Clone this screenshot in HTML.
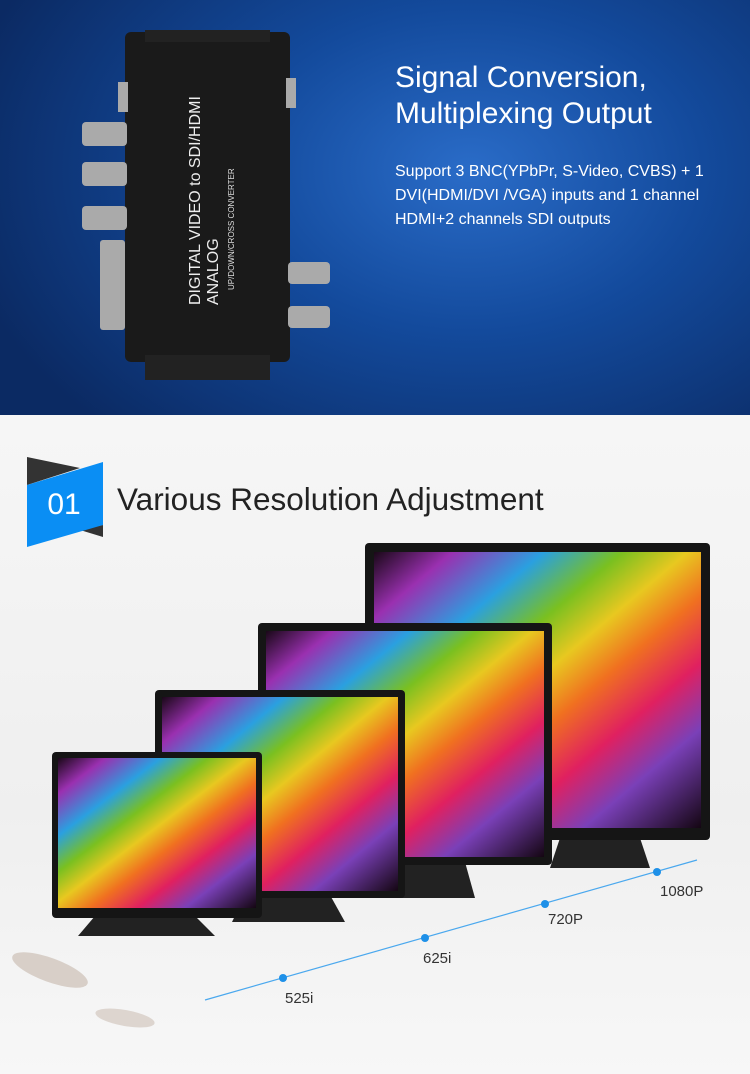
<!DOCTYPE html>
<html><head><meta charset="utf-8"><style>
body{margin:0;width:750px;height:1074px;overflow:hidden;font-family:"Liberation Sans",sans-serif}
#top{position:absolute;left:0;top:0;width:750px;height:415px;background:radial-gradient(ellipse 520px 360px at 470px 170px,#2a6cc8 0%,#134a9c 45%,#0b2a63 100%)}
#bot{position:absolute;left:0;top:415px;width:750px;height:659px;background:linear-gradient(#f6f6f6,#efefef 60%,#f7f7f7)}
.t{position:absolute;color:#fff}
</style></head><body>
<div id="top"></div>
<div id="bot"></div>
<svg width="750" height="1074" style="position:absolute;left:0;top:0">
<defs>
<linearGradient id="scr" x1="0" y1="0" x2="1" y2="1">
<stop offset="0" stop-color="#1a0818"/><stop offset=".12" stop-color="#9a30b0"/><stop offset=".26" stop-color="#2aa0e0"/><stop offset=".38" stop-color="#7ac020"/><stop offset=".48" stop-color="#e8c820"/><stop offset=".58" stop-color="#f07020"/><stop offset=".7" stop-color="#e02060"/><stop offset=".82" stop-color="#7a40b8"/><stop offset="1" stop-color="#140612"/>
</linearGradient>
</defs>
<rect x="125" y="32" width="165" height="330" rx="6" fill="#1a1a1a"/>
<rect x="145" y="30" width="125" height="12" fill="#222"/>
<rect x="145" y="355" width="125" height="25" fill="#222"/>
<g fill="#aaa"><rect x="82" y="122" width="45" height="24" rx="4"/><rect x="82" y="162" width="45" height="24" rx="4"/><rect x="82" y="206" width="45" height="24" rx="4"/><rect x="100" y="240" width="25" height="90" rx="3"/><rect x="288" y="262" width="42" height="22" rx="4"/><rect x="288" y="306" width="42" height="22" rx="4"/><rect x="118" y="82" width="10" height="30"/><rect x="286" y="78" width="10" height="30"/></g>
<text transform="translate(200,305) rotate(-90)" fill="#eee" font-size="16" font-family="Liberation Sans">DIGITAL VIDEO to SDI/HDMI</text>
<text transform="translate(218,305) rotate(-90)" fill="#eee" font-size="16" font-family="Liberation Sans">ANALOG</text>
<text transform="translate(234,290) rotate(-90)" fill="#ddd" font-size="8" font-family="Liberation Sans">UP/DOWN/CROSS CONVERTER</text>
<polygon points="27,457 27,485 80,468" fill="#333"/>
<polygon points="80,530 103,525 103,537" fill="#333"/>
<polygon points="27,485 103,462 103,525 27,547" fill="#0a8ef4"/>
<text x="64" y="514" fill="#fff" font-size="30" text-anchor="middle" font-family="Liberation Sans">01</text>
<text x="117" y="510" fill="#222" font-size="31.5" font-family="Liberation Sans">Various Resolution Adjustment</text>
<g>
<polygon points="560,838 640,838 650,868 550,868" fill="#222"/>
<rect x="365" y="543" width="345" height="297" rx="4" fill="#151515"/>
<rect x="374" y="552" width="327" height="276" fill="url(#scr)"/>
<polygon points="385,862 465,862 475,898 375,898" fill="#222"/>
<rect x="258" y="623" width="294" height="242" rx="4" fill="#151515"/>
<rect x="266" y="631" width="278" height="226" fill="url(#scr)"/>
<polygon points="245,895 330,895 345,922 232,922" fill="#222"/>
<rect x="155" y="690" width="250" height="208" rx="4" fill="#151515"/>
<rect x="162" y="697" width="236" height="194" fill="url(#scr)"/>
<polygon points="95,916 195,916 215,936 78,936" fill="#222"/>
<rect x="52" y="752" width="210" height="166" rx="4" fill="#151515"/>
<rect x="58" y="758" width="198" height="150" fill="url(#scr)"/>
</g>
<line x1="205" y1="1000" x2="697" y2="860" stroke="#4aa8ee" stroke-width="1.2"/>
<g fill="#1e90e8"><circle cx="283" cy="978" r="4"/><circle cx="425" cy="938" r="4"/><circle cx="545" cy="904" r="4"/><circle cx="657" cy="872" r="4"/></g>
<g fill="#333" font-size="15" font-family="Liberation Sans"><text x="285" y="1003">525i</text><text x="423" y="963">625i</text><text x="548" y="924">720P</text><text x="660" y="896">1080P</text></g>
<ellipse cx="50" cy="970" rx="40" ry="12" fill="#d8cfc8" transform="rotate(20 50 970)"/>
<ellipse cx="125" cy="1018" rx="30" ry="8" fill="#ddd5cf" transform="rotate(10 125 1018)"/>
</svg>
<div class="t" style="left:395px;top:60px;font-size:30px;line-height:36px">Signal Conversion,<br>Multiplexing Output</div>
<div class="t" style="left:395px;top:160px;font-size:16px;line-height:24px">Support 3 BNC(YPbPr, S-Video, CVBS) + 1<br>DVI(HDMI/DVI /VGA) inputs and 1 channel<br>HDMI+2 channels SDI outputs</div>
</body></html>
